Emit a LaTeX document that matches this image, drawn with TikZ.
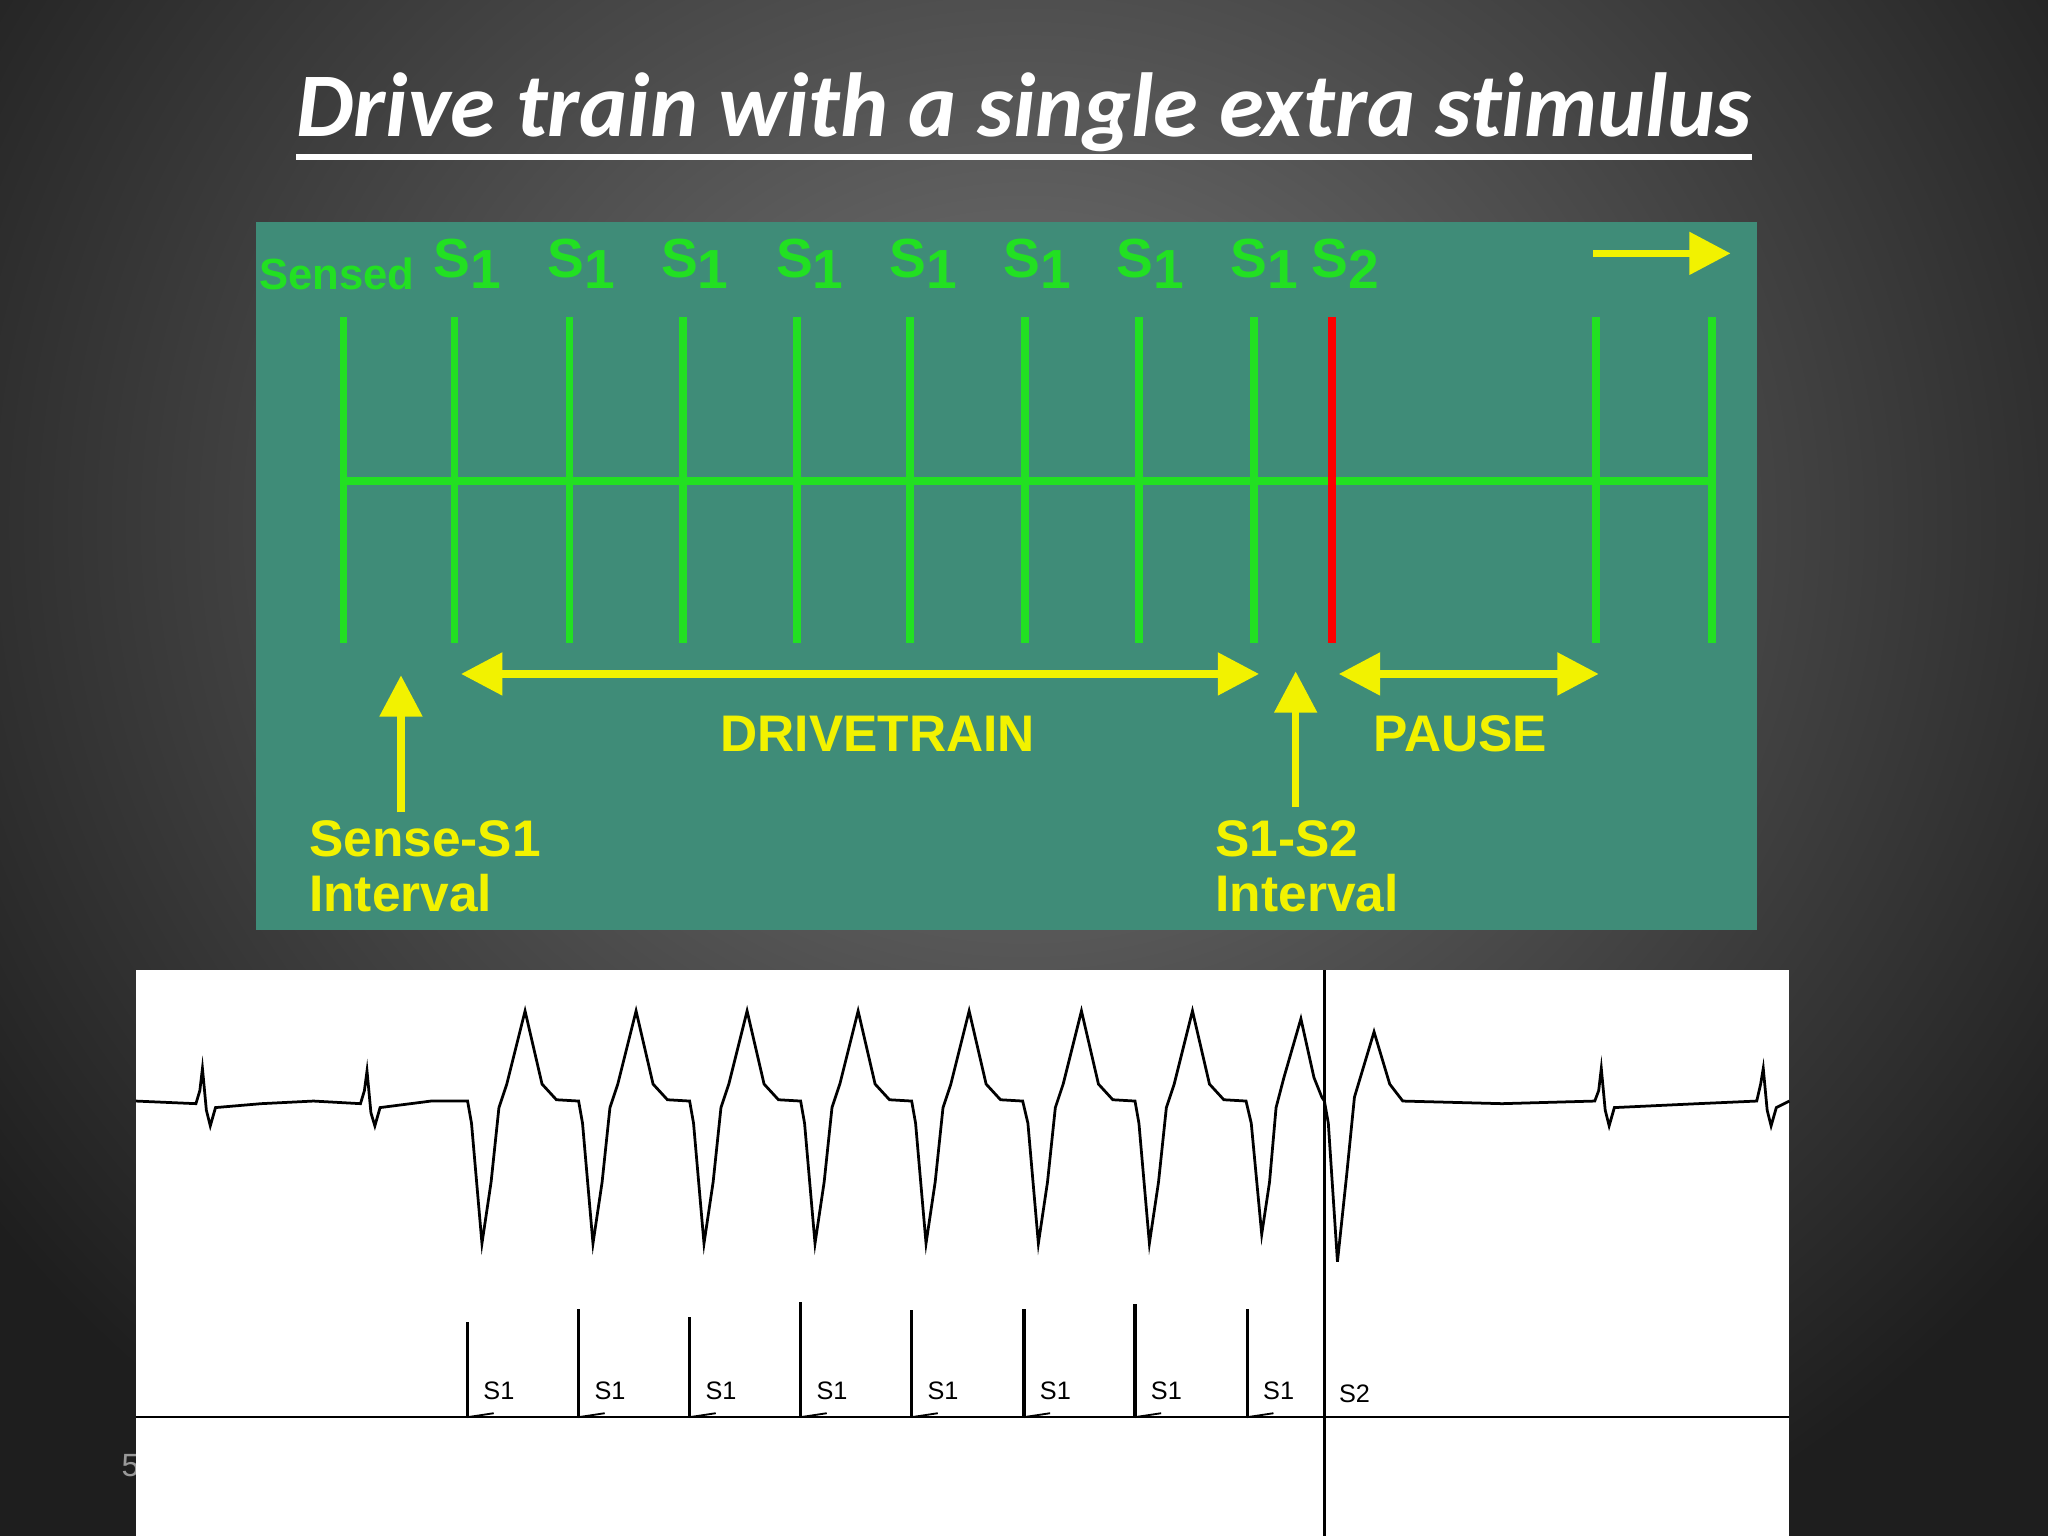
\documentclass[tikz,border=0pt]{standalone}
\usepackage{fontspec}
\setmainfont{Liberation Sans}
\newfontfamily\titlefont[Ligatures=NoCommon]{Carlito}
\usetikzlibrary{arrows.meta}
\definecolor{panel}{HTML}{3F8C78}
\definecolor{lgreen}{HTML}{22E022}
\definecolor{yel}{HTML}{F2F200}
\tikzset{tick/.style={lgreen,line width=1.7pt},
 yarr/.style={yel,line width=1.6pt,-{Triangle[length=9pt,width=9pt]}},
 ydarr/.style={yel,line width=1.6pt,{Triangle[length=9pt,width=9pt]}-{Triangle[length=9pt,width=9pt]}},
 ylab/.style={yel,font=\fontsize{11.2}{13}\selectfont\bfseries,inner sep=0pt},
 slab/.style={lgreen,font=\fontsize{12}{13}\selectfont\bfseries,inner sep=0pt},
 ecg/.style={black,line width=0.6pt},
 stl/.style={font=\fontsize{5.5}{6}\selectfont,inner sep=0pt}}
\begin{document}
\begin{tikzpicture}[x=0.01cm,y=-0.01cm]
\useasboundingbox (0,0) rectangle (1568,1176);
\clip (0,0) rectangle (1568,1176);
\shade[inner color={rgb,255:red,118;green,118;blue,118},outer color={rgb,255:red,30;green,30;blue,30}] (-200,-500) rectangle (1768,1300);
\node[text=white,font=\titlefont\fontsize{19.8}{24}\selectfont\bfseries\itshape,inner sep=0pt] (title) at (784,86) {Drive train with a single extra stimulus};
\draw[white,line width=1.4pt] (227,120) -- (1341,120);
\fill[panel] (196,170) rectangle (1345,712);
\draw[tick] (263,368) -- (1311,368);
\foreach \x in {263,348,436,523,610,697,785,872,960,1222,1311}{\draw[tick] (\x,243) -- (\x,492);}
\draw[red,line width=1.7pt] (1020,243) -- (1020,492);
\node[lgreen,font=\fontsize{9.5}{10}\selectfont\bfseries,inner sep=0pt] (sensed) at (258,210) {Sensed};
\foreach \x in {358,445,532,620,707,794,881,968}{\node[slab] at (\x,202) {S\raisebox{-0.35ex}{1}};}
\node[slab] (s2) at (1030,202) {S\raisebox{-0.35ex}{2}};
\coordinate (ta) at (1220,194); \coordinate (tb) at (1325,194);
\draw[yarr] (ta) -- (tb);
\coordinate (d1) at (353,516); \coordinate (d2) at (964,516);
\draw[ydarr] (d1) -- (d2);
\coordinate (p1) at (1025,516); \coordinate (p2) at (1224,516);
\draw[ydarr] (p1) -- (p2);
\coordinate (u1) at (307,622); \coordinate (u1t) at (307,517);
\draw[yarr] (u1) -- (u1t);
\coordinate (u2) at (992,618); \coordinate (u2t) at (992,514);
\draw[yarr] (u2) -- (u2t);
\node[ylab] (dt) at (672,562) {DRIVETRAIN};
\node[ylab] (pa) at (1118,562) {PAUSE};
\node[ylab,anchor=west,align=left] (ss) at (236,663) {Sense-S1\\[-1pt]Interval};
\node[ylab,anchor=west,align=left] (s12) at (930,663) {S1-S2\\[-1pt]Interval};
\node[gray!80,font=\fontsize{7}{8}\selectfont,inner sep=0pt] (pg) at (100,1122) {5};
\fill[white] (104,743) rectangle (1370,1176);
\draw[black,line width=0.5pt] (1014,743) -- (1014,1176);
\draw[black,line width=0.5pt] (104,1085) -- (1370,1085);
\draw[ecg] (104,843) -- (150,845) -- (153,835) -- (155,818) -- (158,850) -- (161,862) -- (165,848) -- (200,845) -- (240,843) -- (276,845) -- (279,835) -- (281,820) -- (284,852) -- (287,862) -- (291,848) -- (330,843) -- (358,843)
\foreach \x in {358,443,528,613,698,784,869}{ -- (\x+3,860) -- (\x+11,952) -- (\x+18,905) -- (\x+24,848) -- (\x+30,830) -- (\x+44,774) -- (\x+57,830) -- (\x+68,842) -- (\x+85,843)}
-- (958,860) -- (966,945) -- (972,905) -- (977,848) -- (983,825) -- (996,780) -- (1006,825) -- (1012,840) -- (1014,843)
-- (1017,860) -- (1024,966) -- (1031,900) -- (1037,840) -- (1052,790) -- (1064,830) -- (1074,843) -- (1150,845) -- (1221,843) -- (1224,835) -- (1226,818) -- (1229,850) -- (1232,862) -- (1236,848) -- (1300,845) -- (1345,843) -- (1348,830) -- (1350,818) -- (1353,850) -- (1356,862) -- (1360,848) -- (1370,843);
\foreach \x/\h in {358/1012,443/1002,528/1008,613/997,698/1003,784/1002,869/998,955/1002}{
 \draw[black,line width=0.7pt] (\x,1085) -- (\x,\h);
 \draw[black,line width=0.4pt] (\x,1085) -- (\x+20,1082);
 \node[stl] at (\x+24,1065) {S1};}
\draw[black,line width=0.7pt] (1014,1085) -- (1014,992);
\node[stl] (s2b) at (1037,1067) {S2};
\end{tikzpicture}
\end{document}
